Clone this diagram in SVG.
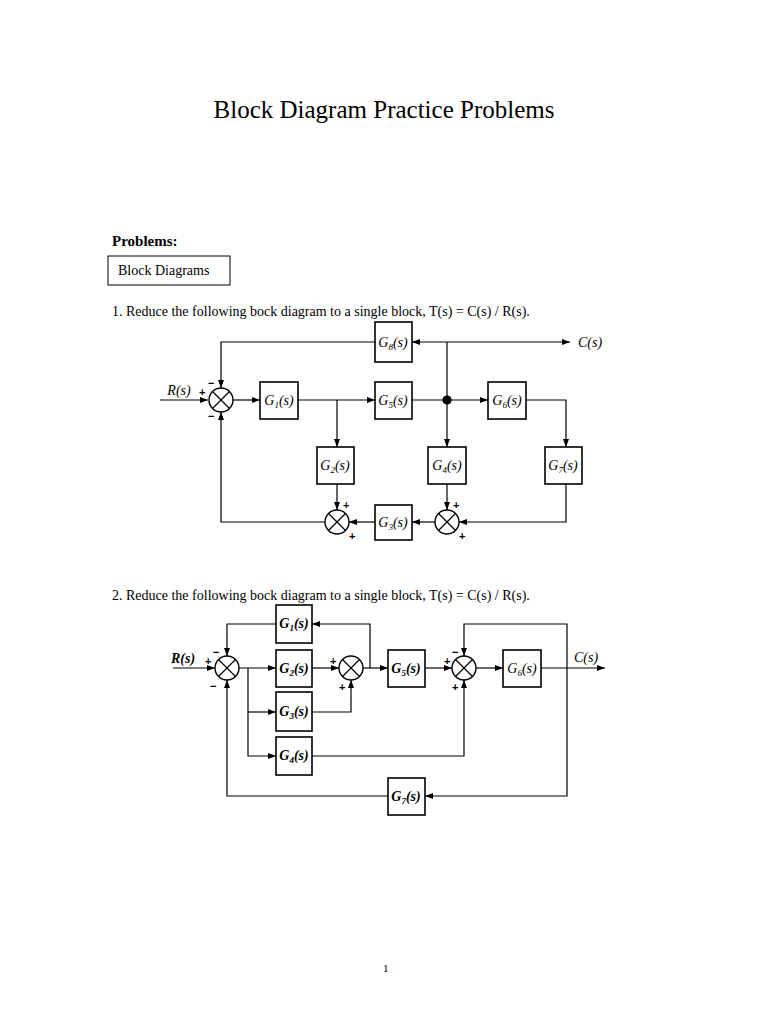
<svg xmlns="http://www.w3.org/2000/svg" width="768" height="1024" viewBox="0 0 768 1024">
<style>
.t{font-family:"Liberation Serif",serif;fill:#000}
.b{fill:#fff;stroke:#000;stroke-width:1.6}
.l{fill:none;stroke:#000;stroke-width:1.2}
.g{font-family:"Liberation Serif",serif;font-style:italic;font-size:14px;text-anchor:middle}
.s{font-family:"Liberation Sans",sans-serif;font-size:11px;font-weight:bold}
</style>
<defs>
<marker id="a" markerWidth="8" markerHeight="6" refX="8" refY="3" orient="auto" markerUnits="userSpaceOnUse"><path d="M0,0L8,3L0,6z"/></marker>
<g id="sum"><circle r="12" fill="#fff" stroke="#000" stroke-width="1.4"/><path d="M-8.5,-8.5L8.5,8.5M-8.5,8.5L8.5,-8.5" stroke="#000" stroke-width="1.2"/></g>
</defs>
<rect width="768" height="1024" fill="#fff"/>
<text class="t" x="384" y="118" font-size="25" text-anchor="middle">Block Diagram Practice Problems</text>
<text class="t" x="112" y="246" font-size="15" font-weight="bold">Problems:</text>
<rect x="108" y="256" width="122" height="29" fill="none" stroke="#000"/>
<text class="t" x="118" y="275" font-size="14">Block Diagrams</text>
<text class="t" x="112" y="316" font-size="14">1.  Reduce the following bock diagram to a single block, T(s) = C(s) / R(s).</text>
<text class="t" x="112" y="600" font-size="14">2.  Reduce the following bock diagram to a single block, T(s) = C(s) / R(s).</text>
<text class="t" x="383" y="972" font-size="11">1</text>

<g id="connectors1" class="l">
<path d="M160,400H208" marker-end="url(#a)"/>
<path d="M233,400H260" marker-end="url(#a)"/>
<path d="M298,400H375" marker-end="url(#a)"/>
<path d="M337,400V447" marker-end="url(#a)"/>
<path d="M412,400H488" marker-end="url(#a)"/>
<path d="M526,400H566V447" marker-end="url(#a)"/>
<path d="M447,342V447" marker-end="url(#a)"/>
<path d="M447,342H412" marker-end="url(#a)"/>
<path d="M447,342H570" marker-end="url(#a)"/>
<path d="M375,342H221V388" marker-end="url(#a)"/>
<path d="M337,484V510" marker-end="url(#a)"/>
<path d="M447,484V510" marker-end="url(#a)"/>
<path d="M566,484V522H459" marker-end="url(#a)"/>
<path d="M435,522H412" marker-end="url(#a)"/>
<path d="M375,522H349" marker-end="url(#a)"/>
<path d="M325,522H221V412" marker-end="url(#a)"/>
<circle cx="447" cy="400" r="4" fill="#000"/>
</g>
<g id="n1">
<use href="#sum" x="221" y="400"/><use href="#sum" x="337" y="522"/><use href="#sum" x="447" y="522"/>
<rect class="b" x="375" y="322" width="37" height="40"/><text class="g" x="393" y="347">G<tspan font-size="9" dy="3">8</tspan><tspan dy="-3">(s)</tspan></text>
<rect class="b" x="260" y="382" width="38" height="37"/><text class="g" x="279" y="405">G<tspan font-size="9" dy="3">1</tspan><tspan dy="-3">(s)</tspan></text>
<rect class="b" x="375" y="382" width="37" height="37"/><text class="g" x="393" y="405">G<tspan font-size="9" dy="3">5</tspan><tspan dy="-3">(s)</tspan></text>
<rect class="b" x="488" y="382" width="38" height="37"/><text class="g" x="507" y="405">G<tspan font-size="9" dy="3">6</tspan><tspan dy="-3">(s)</tspan></text>
<rect class="b" x="317" y="447" width="37" height="37"/><text class="g" x="335" y="470">G<tspan font-size="9" dy="3">2</tspan><tspan dy="-3">(s)</tspan></text>
<rect class="b" x="428" y="447" width="38" height="37"/><text class="g" x="447" y="470">G<tspan font-size="9" dy="3">4</tspan><tspan dy="-3">(s)</tspan></text>
<rect class="b" x="545" y="447" width="37" height="37"/><text class="g" x="563" y="470">G<tspan font-size="9" dy="3">7</tspan><tspan dy="-3">(s)</tspan></text>
<rect class="b" x="375" y="505" width="37" height="35"/><text class="g" x="393" y="527">G<tspan font-size="9" dy="3">3</tspan><tspan dy="-3">(s)</tspan></text>
<text class="g" x="179" y="395">R(s)</text><text class="g" x="590" y="347" font-size="15">C(s)</text>
<text class="s" x="199" y="396">+</text><text class="s" x="208" y="387">−</text><text class="s" x="208" y="420">−</text>
<text class="s" x="343" y="509">+</text><text class="s" x="349" y="540">+</text>
<text class="s" x="453" y="509">+</text><text class="s" x="459" y="540">+</text>
</g>

<g id="connectors2" class="l">
<path d="M173,668H215" marker-end="url(#a)"/>
<path d="M239,668H276" marker-end="url(#a)"/>
<path d="M248,668V756H276" marker-end="url(#a)"/>
<path d="M248,712H276" marker-end="url(#a)"/>
<path d="M312,668H339" marker-end="url(#a)"/>
<path d="M312,712H351V680" marker-end="url(#a)"/>
<path d="M363,668H388" marker-end="url(#a)"/>
<path d="M370,668V624H312" marker-end="url(#a)"/>
<path d="M276,624H227V656" marker-end="url(#a)"/>
<path d="M425,668H452" marker-end="url(#a)"/>
<path d="M476,668H503" marker-end="url(#a)"/>
<path d="M541,668H605" marker-end="url(#a)"/>
<path d="M567,668V624H464V656" marker-end="url(#a)"/>
<path d="M567,668V796H425" marker-end="url(#a)"/>
<path d="M312,756H464V680" marker-end="url(#a)"/>
<path d="M388,796H227V680" marker-end="url(#a)"/>
</g>
<g id="n2">
<use href="#sum" x="227" y="668"/><use href="#sum" x="351" y="668"/><use href="#sum" x="464" y="668"/>
<rect class="b" x="276" y="605" width="36" height="38"/><text class="g" x="294" y="628" font-weight="bold">G<tspan font-size="9" dy="3">1</tspan><tspan dy="-3">(s)</tspan></text>
<rect class="b" x="276" y="650" width="36" height="37"/><text class="g" x="294" y="673" font-weight="bold">G<tspan font-size="9" dy="3">2</tspan><tspan dy="-3">(s)</tspan></text>
<rect class="b" x="276" y="692" width="36" height="39"/><text class="g" x="294" y="716" font-weight="bold">G<tspan font-size="9" dy="3">3</tspan><tspan dy="-3">(s)</tspan></text>
<rect class="b" x="276" y="737" width="36" height="38"/><text class="g" x="294" y="760" font-weight="bold">G<tspan font-size="9" dy="3">4</tspan><tspan dy="-3">(s)</tspan></text>
<rect class="b" x="388" y="650" width="37" height="37"/><text class="g" x="406" y="673" font-weight="bold">G<tspan font-size="9" dy="3">5</tspan><tspan dy="-3">(s)</tspan></text>
<rect class="b" x="503" y="650" width="38" height="37"/><text class="g" x="522" y="673">G<tspan font-size="9" dy="3">6</tspan><tspan dy="-3">(s)</tspan></text>
<rect class="b" x="388" y="778" width="37" height="37"/><text class="g" x="406" y="801" font-weight="bold">G<tspan font-size="9" dy="3">7</tspan><tspan dy="-3">(s)</tspan></text>
<text class="g" x="183" y="663" font-weight="bold">R(s)</text><text class="g" x="586" y="662">C(s)</text>
<text class="s" x="205" y="665">+</text><text class="s" x="213" y="656">−</text><text class="s" x="210" y="690">−</text>
<text class="s" x="330" y="665">+</text><text class="s" x="339" y="691">+</text>
<text class="s" x="444" y="665">+</text><text class="s" x="452" y="656">−</text><text class="s" x="452" y="691">+</text>
</g>
</svg>
